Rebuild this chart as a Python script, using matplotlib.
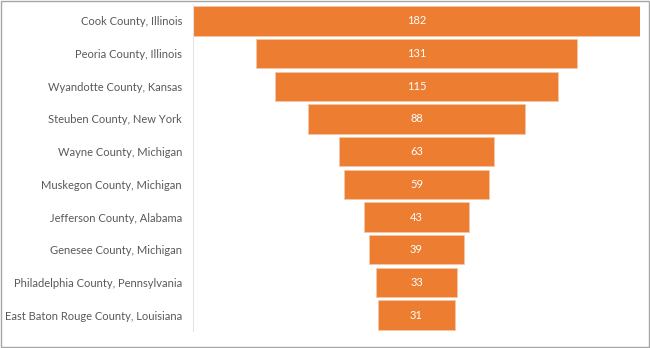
import matplotlib.pyplot as plt
from matplotlib.patches import Rectangle

# Funnel data (top to bottom)
counties = [
    "Cook County, Illinois",
    "Peoria County, Illinois",
    "Wyandotte County, Kansas",
    "Steuben County, New York",
    "Wayne County, Michigan",
    "Muskegon County, Michigan",
    "Jefferson County, Alabama",
    "Genesee County, Michigan",
    "Philadelphia County, Pennsylvania",
    "East Baton Rouge County, Louisiana",
]
counts = [182, 131, 115, 88, 63, 59, 43, 39, 33, 31]

orange = "#ED7D31"
text_gray = "#595959"

fig = plt.figure(figsize=(6.5, 3.48), dpi=100)
ax = fig.add_axes([193 / 650, 1 - 331.4 / 348, 447 / 650, 326.8 / 348])

top = max(counts)
rows = list(range(len(counts)))
lefts = [(top - c) / 2 for c in counts]

bars = ax.barh(rows, counts, left=lefts, height=0.9, color=orange,
               edgecolor="#f6c7a6", linewidth=0.6)

for r, c, l in zip(rows, counts, lefts):
    ax.text(l + c / 2, r, str(c), ha="center", va="center",
            color="white", fontsize=8, family="Lato")

ax.set_xlim(0, top)
ax.set_ylim(len(counts) - 0.5, -0.5)
ax.set_yticks(rows)
ax.set_yticklabels(counties, fontsize=8, color=text_gray, family="Lato")
ax.tick_params(axis="y", length=0, pad=8)
ax.set_xticks([])

for side in ["top", "right", "bottom"]:
    ax.spines[side].set_visible(False)
ax.spines["left"].set_color("#e3e3e3")
ax.spines["left"].set_linewidth(0.8)

# grey frame round the whole picture
fig.patches.append(Rectangle((0.001, 0.002), 0.997, 0.995, transform=fig.transFigure,
                             fill=False, edgecolor="#a6a6a6", linewidth=1))

fig.savefig("out.png", dpi=100)
